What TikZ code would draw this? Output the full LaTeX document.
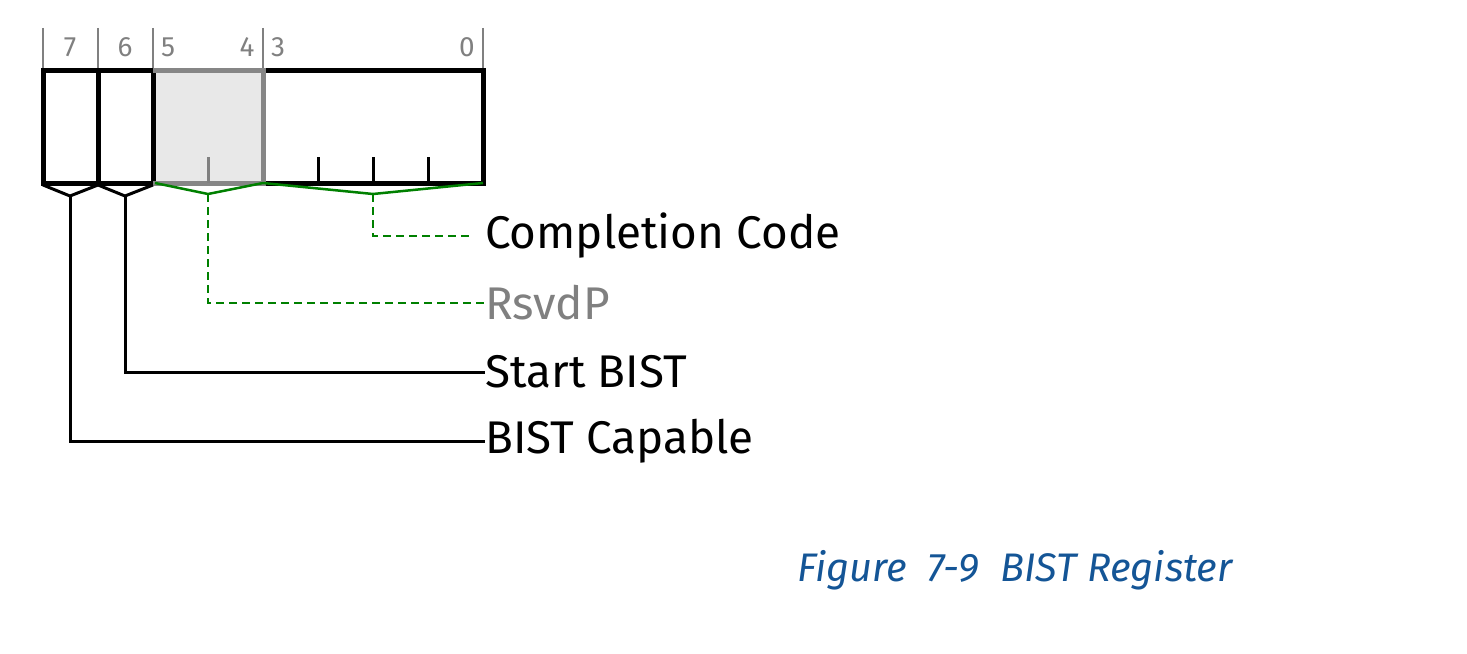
\documentclass[tikz,border=0pt]{standalone}
\usepackage{fontspec}
\setmainfont{Fira Sans}
\begin{document}
\begin{tikzpicture}[x=1bp,y=-1bp,
  box/.style={line width=5bp},
  gbox/.style={line width=5bp,draw=gray!95},
  sep/.style={line width=2.5bp,draw=gray},
  lead/.style={line width=3bp},
  glead/.style={line width=2.5bp,draw=green!50!black},
  gdash/.style={glead,dash pattern=on 8bp off 5bp},
  lbl/.style={anchor=west,font=\fontsize{46}{50}\selectfont,inner sep=0pt},
  bit/.style={font=\fontsize{28}{30}\selectfont,text=gray,inner sep=0pt}]
\useasboundingbox (0,0) rectangle (1467,654);
% reserved field
\fill[gray!18] (153,71) rectangle (263,183);
% separators
\foreach \x in {43,98,153,263,483} \draw[sep] (\x,28) -- (\x,68);
\node[bit] (b7) at (70,47) {7};
\node[bit] (b6) at (125,47) {6};
\node[bit] (b5) at (168,47) {5};
\node[bit] (b4) at (247,47) {4};
\node[bit] (b3) at (278,47) {3};
\node[bit] (b0) at (467,47) {0};
% boxes
\draw[box] (263,71) -- (483,71) -- (483,183) -- (263,183);
\draw[box] (153,71) -- (43,71) -- (43,183) -- (153,183);
\draw[box] (98,71) -- (98,183);
\draw[box] (153,71) -- (153,183);
\draw[gbox] (153,71) -- (263,71) -- (263,183) -- (153,183);
\draw[sep,line width=3bp] (208,157) -- (208,183);
\foreach \x in {318,373,428} \draw[lead] (\x,157) -- (\x,183);
% labels
\node[lbl] (cc) at (485,236) {Completion Code};
\node[lbl,text=gray] (rs) at (485,303) {RsvdP};
\node[lbl] (sb) at (485,372) {Start BIST};
\node[lbl] (bc) at (485,441) {BIST Capable};
\coordinate (ccp) at (373,194);
\coordinate (rsp) at (208,194);
\coordinate (sbp) at (125,196);
\coordinate (bcp) at (70,196);
% leaders
\draw[lead] (43,185) -- (bcp) -- (98,185);
\draw[lead] (98,185) -- (sbp) -- (153,185);
\draw[lead] (bcp) |- (bc.west);
\draw[lead] (sbp) |- (sb.west);
\draw[glead] (155,183) -- (rsp) -- (263,183);
\draw[glead] (263,183) -- (ccp) -- (483,183);
\draw[gdash] (rsp) |- (rs.west);
\draw[gdash] (ccp) |- ([xshift=-15bp]cc.west);
\node[anchor=west,inner sep=0pt,text={rgb,255:red,20;green,85;blue,150},font=\fontsize{40}{44}\selectfont\itshape] (cap) at (797,570) {Figure\ \ 7-9\ \ BIST Register};
\end{tikzpicture}
\end{document}
